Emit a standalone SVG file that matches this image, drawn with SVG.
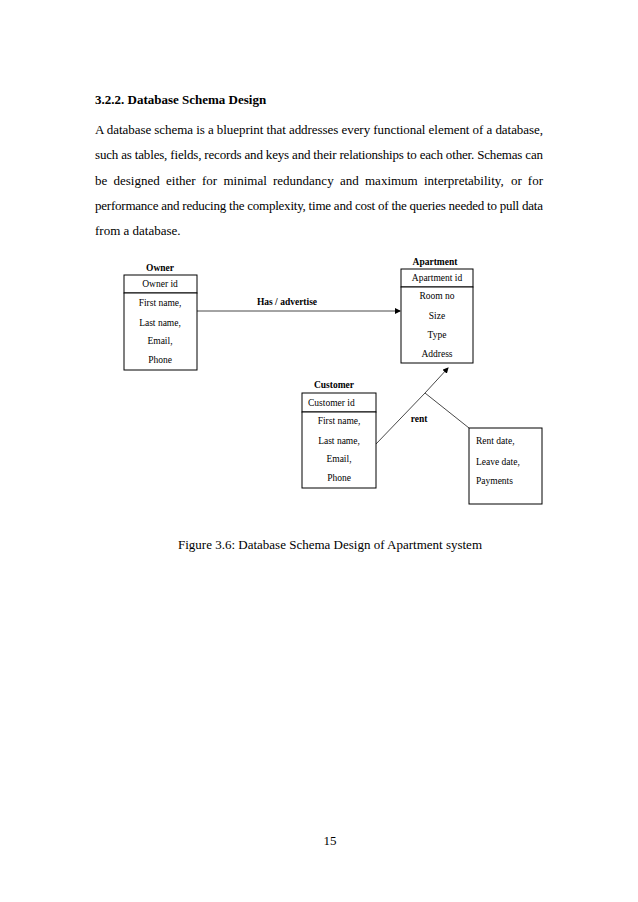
<svg xmlns="http://www.w3.org/2000/svg" width="638" height="902" viewBox="0 0 638 902">
<style>
.t{font-family:"Liberation Serif","Times New Roman",serif;fill:#000}
.p{font-size:13px}
.d{font-size:9.5px}
.b{font-weight:bold}
.box{fill:#fff;stroke:#000;stroke-width:1}
.ln{stroke:#333;stroke-width:0.9;fill:none}
</style>
<defs>
<marker id="ah" markerWidth="6" markerHeight="6" refX="5" refY="3" orient="auto" markerUnits="userSpaceOnUse">
<path d="M0,0 L6,3 L0,6 z" fill="#000"/>
</marker>
</defs>
<rect width="638" height="902" fill="#fff"/>
<g id="text">
<text class="t p b" x="95" y="104">3.2.2. Database Schema Design</text>
<text class="t p" x="95" y="134" textLength="448" lengthAdjust="spacing">A database schema is a blueprint that addresses every functional element of a database,</text>
<text class="t p" x="95" y="159" textLength="448" lengthAdjust="spacing">such as tables, fields, records and keys and their relationships to each other. Schemas can</text>
<text class="t p" y="185"><tspan x="95">be</tspan><tspan x="113.5">designed</tspan><tspan x="166">either</tspan><tspan x="202">for</tspan><tspan x="223.5">minimal</tspan><tspan x="273">redundancy</tspan><tspan x="340">and</tspan><tspan x="365">maximum</tspan><tspan x="424">interpretability,</tspan><tspan x="511">or</tspan><tspan x="543" text-anchor="end">for</tspan></text>
<text class="t p" x="95" y="210" textLength="448" lengthAdjust="spacing">performance and reducing the complexity, time and cost of the queries needed to pull data</text>
<text class="t p" x="95" y="235">from a database.</text>
</g>
<g id="connectors">
<line class="ln" x1="197" y1="311" x2="400" y2="311" marker-end="url(#ah)"/>
<polyline class="ln" points="376,444 425,393 448,368" marker-end="url(#ah)"/>
<line class="ln" x1="425" y1="393" x2="469" y2="428"/>
<text class="t d b" x="287" y="305" text-anchor="middle">Has / advertise</text>
<text class="t d b" x="419" y="422" text-anchor="middle">rent</text>
</g>
<g id="owner">
<text class="t d b" x="160" y="271" text-anchor="middle">Owner</text>
<rect class="box" x="124" y="275" width="73" height="18"/>
<text class="t d" x="160" y="287" text-anchor="middle">Owner id</text>
<rect class="box" x="124" y="293" width="73" height="77"/>
<text class="t d" x="160" y="306" text-anchor="middle">First name,</text>
<text class="t d" x="160" y="326" text-anchor="middle">Last name,</text>
<text class="t d" x="160" y="344" text-anchor="middle">Email,</text>
<text class="t d" x="160" y="363" text-anchor="middle">Phone</text>
</g>
<g id="apartment">
<text class="t d b" x="435" y="265" text-anchor="middle">Apartment</text>
<rect class="box" x="401" y="269" width="72" height="18"/>
<text class="t d" x="437" y="281" text-anchor="middle">Apartment id</text>
<rect class="box" x="401" y="287" width="72" height="76"/>
<text class="t d" x="437" y="299" text-anchor="middle">Room no</text>
<text class="t d" x="437" y="319" text-anchor="middle">Size</text>
<text class="t d" x="437" y="338" text-anchor="middle">Type</text>
<text class="t d" x="437" y="357" text-anchor="middle">Address</text>
</g>
<g id="customer">
<text class="t d b" x="334" y="388" text-anchor="middle">Customer</text>
<rect class="box" x="302" y="393" width="74" height="19"/>
<text class="t d" x="308" y="406">Customer id</text>
<rect class="box" x="302" y="412" width="74" height="76"/>
<text class="t d" x="339" y="424" text-anchor="middle">First name,</text>
<text class="t d" x="339" y="444" text-anchor="middle">Last name,</text>
<text class="t d" x="339" y="462" text-anchor="middle">Email,</text>
<text class="t d" x="339" y="481" text-anchor="middle">Phone</text>
</g>
<g id="rent">
<rect class="box" x="469" y="428" width="73" height="76"/>
<text class="t d" x="476" y="444">Rent date,</text>
<text class="t d" x="476" y="465">Leave date,</text>
<text class="t d" x="476" y="484">Payments</text>
</g>
<g id="caption">
<text class="t p" x="330" y="549" text-anchor="middle">Figure 3.6: Database Schema Design of Apartment system</text>
<text class="t p" x="330" y="845" text-anchor="middle">15</text>
</g>
</svg>
